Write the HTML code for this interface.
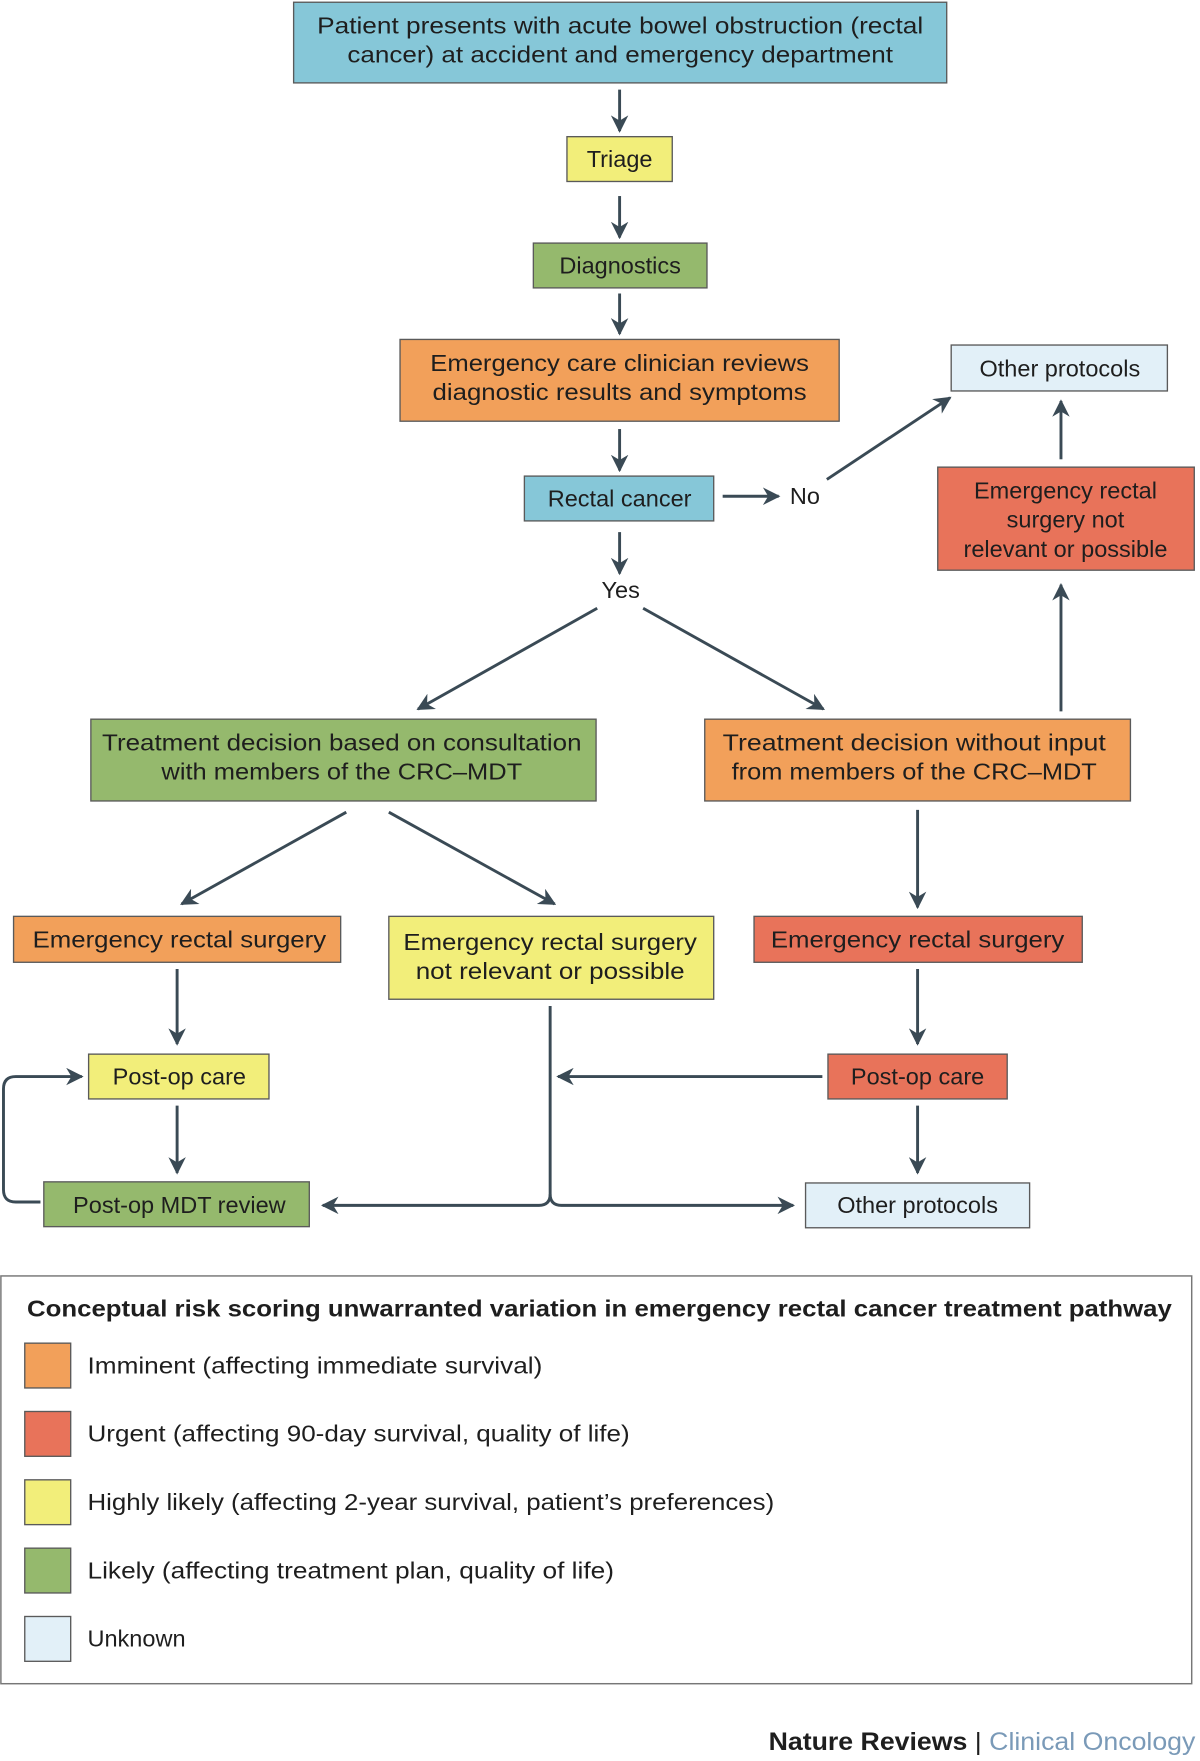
<!DOCTYPE html>
<html><head><meta charset="utf-8"><style>
html,body{margin:0;padding:0;background:#fff;}
svg{display:block;}
text{font-family:"Liberation Sans Narrow","Liberation Sans",sans-serif;font-size:21px;fill:#1e1e1e;}
.b{stroke:#5a5a5a;stroke-width:1.2;}
.l{stroke:#3a4a55;stroke-width:2.6;fill:none;}
</style></head><body>
<svg width="1200" height="1761" viewBox="0 0 1071 1572" xmlns="http://www.w3.org/2000/svg">
<defs>
<marker id="a" viewBox="0 0 10 10" refX="9" refY="5" markerWidth="6" markerHeight="6" orient="auto" markerUnits="strokeWidth">
<path d="M0,0 L10,5 L0,10 L3,5 z" fill="#3a4a55"/></marker>
</defs>
<rect class="b" x="262" y="2" width="583" height="72" fill="#86c7d8"/>
<text x="553.5" y="30" text-anchor="middle" textLength="541" lengthAdjust="spacingAndGlyphs">Patient presents with acute bowel obstruction (rectal</text>
<text x="553.5" y="56" text-anchor="middle" textLength="487" lengthAdjust="spacingAndGlyphs">cancer) at accident and emergency department</text>

<rect class="b" x="506" y="122" width="94" height="40" fill="#f2ee7a"/>
<text x="553" y="149" text-anchor="middle">Triage</text>

<rect class="b" x="476" y="217" width="155" height="40" fill="#95b96d"/>
<text x="553.5" y="244" text-anchor="middle">Diagnostics</text>

<rect class="b" x="357" y="303" width="392" height="73" fill="#f2a05a"/>
<text x="553" y="331" text-anchor="middle" textLength="338" lengthAdjust="spacingAndGlyphs">Emergency care clinician reviews</text>
<text x="553" y="357" text-anchor="middle" textLength="334" lengthAdjust="spacingAndGlyphs">diagnostic results and symptoms</text>

<rect class="b" x="468" y="425" width="169" height="40" fill="#86c7d8"/>
<text x="553" y="452" text-anchor="middle">Rectal cancer</text>
<text x="705" y="450">No</text>
<text x="554" y="534" text-anchor="middle">Yes</text>

<rect class="b" x="849" y="308" width="193" height="41" fill="#e2f0f8"/>
<text x="946" y="336" text-anchor="middle">Other protocols</text>

<rect class="b" x="837" y="417" width="229" height="92" fill="#e8735a"/>
<text x="951" y="445" text-anchor="middle">Emergency rectal</text>
<text x="951" y="471" text-anchor="middle">surgery not</text>
<text x="951" y="497" text-anchor="middle">relevant or possible</text>

<rect class="b" x="81" y="642" width="451" height="73" fill="#95b96d"/>
<text x="305" y="670" text-anchor="middle" textLength="428" lengthAdjust="spacingAndGlyphs">Treatment decision based on consultation</text>
<text x="305" y="696" text-anchor="middle" textLength="322" lengthAdjust="spacingAndGlyphs">with members of the CRC–MDT</text>

<rect class="b" x="629" y="642" width="380" height="73" fill="#f2a05a"/>
<text x="816" y="670" text-anchor="middle" textLength="342" lengthAdjust="spacingAndGlyphs">Treatment decision without input</text>
<text x="816" y="696" text-anchor="middle" textLength="326" lengthAdjust="spacingAndGlyphs">from members of the CRC–MDT</text>

<rect class="b" x="12" y="818" width="292" height="41" fill="#f2a05a"/>
<text x="160" y="846" text-anchor="middle" textLength="262" lengthAdjust="spacingAndGlyphs">Emergency rectal surgery</text>

<rect class="b" x="347" y="818" width="290" height="74" fill="#f2ee7a"/>
<text x="491" y="848" text-anchor="middle" textLength="262" lengthAdjust="spacingAndGlyphs">Emergency rectal surgery</text>
<text x="491" y="874" text-anchor="middle" textLength="240" lengthAdjust="spacingAndGlyphs">not relevant or possible</text>

<rect class="b" x="673" y="818" width="293" height="41" fill="#e8735a"/>
<text x="819" y="846" text-anchor="middle" textLength="262" lengthAdjust="spacingAndGlyphs">Emergency rectal surgery</text>

<rect class="b" x="79" y="941" width="161" height="40" fill="#f2ee7a"/>
<text x="160" y="968" text-anchor="middle">Post-op care</text>

<rect class="b" x="739" y="941" width="160" height="40" fill="#e8735a"/>
<text x="819" y="968" text-anchor="middle">Post-op care</text>

<rect class="b" x="39" y="1055" width="237" height="40" fill="#95b96d"/>
<text x="160" y="1083" text-anchor="middle">Post-op MDT review</text>

<rect class="b" x="719" y="1056" width="200" height="40" fill="#e2f0f8"/>
<text x="819" y="1083" text-anchor="middle">Other protocols</text>

<path class="l" marker-end="url(#a)" d="M553,80 V117"/>
<path class="l" marker-end="url(#a)" d="M553,175 V212"/>
<path class="l" marker-end="url(#a)" d="M553,262 V298"/>
<path class="l" marker-end="url(#a)" d="M553,383 V420"/>
<path class="l" marker-end="url(#a)" d="M553,475 V512"/>
<path class="l" marker-end="url(#a)" d="M645,443 H695"/>
<path class="l" marker-end="url(#a)" d="M738,428 L848,355"/>
<path class="l" marker-end="url(#a)" d="M947,410 V358"/>
<path class="l" marker-end="url(#a)" d="M947,635 V522"/>
<path class="l" marker-end="url(#a)" d="M533,543 L373,633"/>
<path class="l" marker-end="url(#a)" d="M574,543 L735,633"/>
<path class="l" marker-end="url(#a)" d="M309,725 L162,807"/>
<path class="l" marker-end="url(#a)" d="M347,725 L495,807"/>
<path class="l" marker-end="url(#a)" d="M819,723 V810"/>
<path class="l" marker-end="url(#a)" d="M158,865 V932"/>
<path class="l" marker-end="url(#a)" d="M819,865 V932"/>
<path class="l" marker-end="url(#a)" d="M158,987 V1047"/>
<path class="l" marker-end="url(#a)" d="M819,987 V1047"/>
<path class="l" marker-end="url(#a)" d="M734,961 H498"/>
<path class="l" d="M491,898 V1066"/>
<path class="l" marker-end="url(#a)" d="M491,1066 Q491,1076 481,1076 H288"/>
<path class="l" marker-end="url(#a)" d="M491,1066 Q491,1076 501,1076 H708"/>
<path class="l" marker-end="url(#a)" d="M36,1073 H14 Q3,1073 3,1062 V972 Q3,961 14,961 H73"/>

<rect x="0.7" y="1139" width="1063" height="364" fill="#fff" stroke="#777" stroke-width="1.3"/>
<text x="24" y="1175" style="font-weight:bold" textLength="1022" lengthAdjust="spacingAndGlyphs">Conceptual risk scoring unwarranted variation in emergency rectal cancer treatment pathway</text>
<rect class="b" x="22" y="1199" width="41" height="40" fill="#f2a05a"/>
<rect class="b" x="22" y="1260" width="41" height="40" fill="#e8735a"/>
<rect class="b" x="22" y="1321" width="41" height="40" fill="#f2ee7a"/>
<rect class="b" x="22" y="1382" width="41" height="40" fill="#95b96d"/>
<rect class="b" x="22" y="1443" width="41" height="40" fill="#e2f0f8"/>
<text x="78" y="1226" textLength="406" lengthAdjust="spacingAndGlyphs">Imminent (affecting immediate survival)</text>
<text x="78" y="1287" textLength="484" lengthAdjust="spacingAndGlyphs">Urgent (affecting 90-day survival, quality of life)</text>
<text x="78" y="1348" textLength="613" lengthAdjust="spacingAndGlyphs">Highly likely (affecting 2-year survival, patient’s preferences)</text>
<text x="78" y="1409" textLength="470" lengthAdjust="spacingAndGlyphs">Likely (affecting treatment plan, quality of life)</text>
<text x="78" y="1470">Unknown</text>

<text x="1067" y="1562" text-anchor="end" style="font-size:22px" textLength="381" lengthAdjust="spacingAndGlyphs"><tspan style="font-weight:bold">Nature Reviews</tspan> | <tspan style="fill:#7a9ab8">Clinical Oncology</tspan></text>
</svg>
</body></html>
